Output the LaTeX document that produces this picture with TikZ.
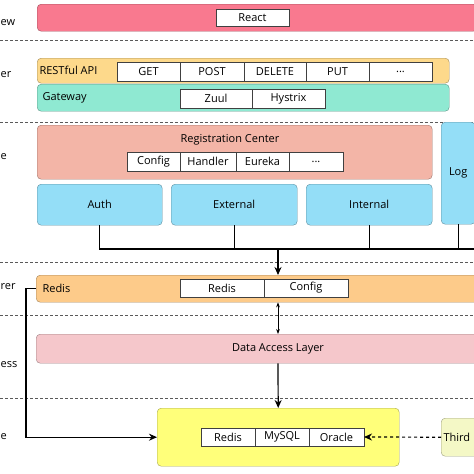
\documentclass[tikz,border=0pt]{standalone}
\usepackage{fontspec}
\setmainfont{Open Sans}
\usetikzlibrary{positioning,arrows.meta}

\definecolor{viewpink}{HTML}{F9798F}
\definecolor{apiyellow}{HTML}{FDD98B}
\definecolor{gateteal}{HTML}{8FE9D2}
\definecolor{regsalmon}{HTML}{F3B5A7}
\definecolor{svcblue}{HTML}{94DEF7}
\definecolor{cacheorange}{HTML}{FDCB8A}
\definecolor{dalpink}{HTML}{F5C7CB}
\definecolor{dbyellow}{HTML}{FFFF7A}
\definecolor{thirdgreen}{HTML}{F4F8C6}

\tikzset{
  layer/.style={draw=#1!65!black, fill=#1, rounded corners=4pt,
                anchor=north west, inner sep=0pt},
  cell/.style={draw=black!75, fill=white, inner sep=0pt, outer sep=0pt,
               minimum height=18pt},
  sep/.style={densely dashed, gray!70!black, line width=0.6pt},
  wire/.style={line width=1.2pt},
  tag/.style={anchor=west, inner sep=0pt}
}

\begin{document}
\begin{tikzpicture}[x=1pt, y=-1pt,
    every node/.append style={font=\fontsize{11}{13}\selectfont}]
    \useasboundingbox (0,0) rectangle (474,474);
    \clip (0,0) rectangle (474,474);
    \fill[white] (0,0) rectangle (474,474);

    % separators
    \foreach \y in {40,122,262,315,398}
        \draw[sep] (0,\y) -- (474,\y);

    % layer names (cut at the left edge)
    \node[tag] (tview) at (0.5,23) {ew};
    \node[tag] (tapi) at (0.5,75) {er};
    \node[tag] (tsvc) at (0.5,157) {e};
    \node[tag] (tcache) at (0.5,287) {rer};
    \node[tag] (tdal) at (0.5,365) {ess};
    \node[tag] (tdb) at (0.5,437) {e};

    % view
    \node[layer=viewpink, minimum width=440, minimum height=27] (view) at (37,4) {};
    \node[cell, minimum width=73, minimum height=17] (react) at (252.5,17.5) {React};

    % api layer
    \node[layer=apiyellow, minimum width=412, minimum height=25] (api) at (37,58) {};
    \node[anchor=west] (apitxt) at ([xshift=-1pt]api.west) {RESTful API};
    \node[cell, minimum width=63, minimum height=19] (get) at (148.5,71.5) {GET};
    \node[cell, minimum width=64, minimum height=19, right=0pt of get] (post) {POST};
    \node[cell, minimum width=62, minimum height=19, right=0pt of post] (delete) {DELETE};
    \node[cell, minimum width=63, minimum height=19, right=0pt of delete] (put) {PUT};
    \node[cell, minimum width=63, minimum height=19, right=0pt of put] (more) {...};

    \node[layer=gateteal, minimum width=412, minimum height=27] (gate) at (37,84) {};
    \node[anchor=west] (gatetxt) at ([xshift=2pt]gate.west) {Gateway};
    \node[cell, minimum width=72, minimum height=19] (zuul) at (216,98.5) {Zuul};
    \node[cell, minimum width=73, minimum height=19, right=0pt of zuul] (hystrix) {Hystrix};

    % services
    \node[layer=regsalmon, minimum width=395, minimum height=54] (reg) at (37,125) {};
    \node (regtxt) at (230,140) {Registration Center};
    \node[cell, minimum width=53, minimum height=19] (config) at (153.5,161.5) {Config};
    \node[cell, minimum width=56, minimum height=19, right=0pt of config] (handler) {Handler};
    \node[cell, minimum width=53, minimum height=19, right=0pt of handler] (eureka) {Eureka};
    \node[cell, minimum width=54, minimum height=19, right=0pt of eureka] (regmore) {...};

    \node[layer=svcblue, minimum width=125, minimum height=41] (auth) at (37,184) {};
    \node (authtxt) at (auth.center) {Auth};
    \node[layer=svcblue, minimum width=126, minimum height=41] (ext) at (171,184) {};
    \node (exttxt) at (ext.center) {External};
    \node[layer=svcblue, minimum width=126, minimum height=41] (int) at (306,184) {};
    \node (inttxt) at (int.center) {Internal};
    \node[layer=svcblue, minimum width=34, minimum height=102] (log) at (441,122) {};
    \node (logtxt) at (log.center) {Log};

    % cache
    \node[layer=cacheorange, minimum width=442, minimum height=27] (cache) at (36,275) {};
    \node[anchor=west] (cachetxt) at ([xshift=3pt]cache.west) {Redis};
    \node[cell, minimum width=84] (credis) at (222,288) {Redis};
    \node[cell, minimum width=84, right=0pt of credis] (cconfig) {Config};

    % data access
    \node[layer=dalpink, minimum width=484, minimum height=29] (dal) at (36,334) {};
    \node (daltxt) at (278,348.5) {Data Access Layer};

    % storage
    \node[layer=dbyellow, minimum width=242, minimum height=58] (db) at (157,408) {};
    \node[cell, minimum width=54] (dbredis) at (228,437) {Redis};
    \node[cell, minimum width=54, right=0pt of dbredis] (mysql) {MySQL};
    \node[cell, minimum width=55, right=0pt of mysql] (oracle) {Oracle};
    \node[layer=thirdgreen, minimum width=40, minimum height=38] (third) at (441,418) {};
    \node[anchor=west] (thirdtxt) at ([xshift=-1pt]third.west) {Third};

    % connectors
    \coordinate (bus) at (278,249);
    \coordinate (busend) at (480,249);
    \draw[wire] (auth.south) -- (auth.south |- bus) -- (busend);
    \draw[wire] (ext.south) -- (ext.south |- bus);
    \draw[wire] (int.south) -- (int.south |- bus);
    \draw[wire] (log.south) -- (log.south |- bus);
    \draw[wire, -{Stealth[length=8pt, width=7pt]}] (bus) -- (bus |- cache.north);
    \draw[line width=0.8pt, {Stealth[length=5pt]}-{Stealth[length=5pt]}]
        (bus |- cache.south) -- (bus |- dal.north);
    \draw[wire, -{Stealth[length=8pt, width=7pt]}] (bus |- dal.south) -- (db.north);
    \draw[wire, -{Stealth[length=8pt, width=7pt]}] (cache.west) -- ++(-10,0) |- (db.west);
    \draw[wire, dashed, -{Stealth[length=8pt, width=7pt]}] (third.west) -- (oracle.east);
\end{tikzpicture}
\end{document}
